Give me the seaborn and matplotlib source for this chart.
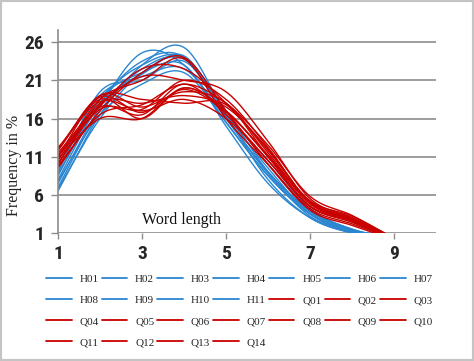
import numpy as np
import pandas as pd
import matplotlib
matplotlib.use("Agg")
import matplotlib.pyplot as plt
from matplotlib.patches import Rectangle
from matplotlib import font_manager
import seaborn as sns

word_length = [1, 2, 3, 4, 5, 6, 7, 8, 9]

H01 = [6.5, 16.5, 23.0, 25.3, 16.5, 8.0, 3.0, 1.0, 0.2]
H02 = [7.5, 17.5, 24.6, 23.0, 15.5, 8.5, 3.5, 1.2, 0.2]
H03 = [8.0, 18.0, 23.5, 24.0, 16.0, 9.0, 3.8, 1.3, 0.3]
H04 = [9.0, 19.5, 21.0, 23.5, 16.5, 9.5, 3.5, 1.0, 0.2]
H05 = [7.0, 17.0, 22.5, 23.8, 17.0, 9.0, 3.2, 1.1, 0.2]
H06 = [8.5, 18.5, 22.0, 23.0, 15.0, 7.5, 3.0, 1.0, 0.2]
H07 = [10.0, 19.0, 21.5, 22.5, 16.0, 9.0, 4.0, 1.5, 0.3]
H08 = [7.8, 16.5, 20.5, 22.0, 15.5, 8.5, 3.5, 1.2, 0.3]
H09 = [9.5, 18.5, 23.0, 24.0, 17.0, 10.0, 4.0, 1.4, 0.3]
H10 = [6.8, 16.0, 22.0, 23.8, 16.5, 10.5, 4.2, 1.5, 0.4]
H11 = [8.8, 17.8, 21.8, 24.2, 16.2, 8.8, 3.6, 1.2, 0.3]

Q01 = [12.0, 18.5, 16.0, 20.0, 17.0, 11.0, 4.5, 2.5, 0.2]
Q02 = [11.0, 19.0, 17.5, 19.5, 18.0, 11.5, 5.0, 2.8, 0.3]
Q03 = [10.0, 18.0, 18.0, 19.0, 17.5, 12.0, 5.0, 3.0, 0.3]
Q04 = [11.5, 17.5, 16.5, 20.5, 16.5, 10.5, 4.5, 2.5, 0.2]
Q05 = [9.5, 17.0, 22.0, 24.0, 17.0, 10.0, 4.0, 2.0, 0.1]
Q06 = [10.5, 18.5, 21.0, 23.8, 16.0, 10.0, 4.2, 2.2, 0.2]
Q07 = [12.0, 19.0, 18.5, 18.0, 17.8, 11.0, 4.5, 2.8, 0.3]
Q08 = [10.8, 16.0, 16.0, 20.0, 17.0, 11.0, 5.2, 3.2, 0.3]
Q09 = [11.2, 17.8, 21.5, 21.0, 19.5, 13.0, 5.5, 3.0, 0.3]
Q10 = [9.8, 16.5, 17.8, 20.5, 18.0, 12.5, 5.8, 3.3, 0.3]
Q11 = [11.8, 18.8, 16.8, 19.8, 16.8, 11.2, 4.8, 2.6, 0.2]
Q12 = [10.2, 17.2, 17.2, 21.0, 18.5, 12.2, 5.0, 2.7, 0.3]
Q13 = [12.2, 18.2, 17.0, 18.5, 16.0, 10.5, 4.5, 2.4, 0.2]
Q14 = [11.0, 17.6, 22.5, 22.5, 18.0, 11.8, 5.2, 2.9, 0.3]

series = {
    "H01": H01, "H02": H02, "H03": H03, "H04": H04, "H05": H05, "H06": H06,
    "H07": H07, "H08": H08, "H09": H09, "H10": H10, "H11": H11,
    "Q01": Q01, "Q02": Q02, "Q03": Q03, "Q04": Q04, "Q05": Q05, "Q06": Q06,
    "Q07": Q07, "Q08": Q08, "Q09": Q09, "Q10": Q10, "Q11": Q11, "Q12": Q12,
    "Q13": Q13, "Q14": Q14,
}

y_ticks = [1, 6, 11, 16, 21, 26]
x_ticks = [1, 3, 5, 7, 9]

BLUE = "#2A86D1"
RED = "#C80000"


def smooth(xs, ys, n=24):
    """Catmull-Rom rendering of the line (Excel 'smoothed line' style)."""
    x = np.asarray(xs, float)
    y = np.asarray(ys, float)
    px = np.concatenate([[2 * x[0] - x[1]], x, [2 * x[-1] - x[-2]]])
    py = np.concatenate([[2 * y[0] - y[1]], y, [2 * y[-1] - y[-2]]])
    ox, oy = [], []
    t = np.linspace(0, 1, n, endpoint=False)
    for i in range(1, len(px) - 2):
        for P, out in ((px, ox), (py, oy)):
            p0, p1, p2, p3 = P[i - 1], P[i], P[i + 1], P[i + 2]
            out.extend(0.5 * (2 * p1 + (-p0 + p2) * t
                              + (2 * p0 - 5 * p1 + 4 * p2 - p3) * t ** 2
                              + (-p0 + 3 * p1 - 3 * p2 + p3) * t ** 3))
    ox.append(x[-1]); oy.append(y[-1])
    return np.array(ox), np.array(oy)


rows = []
for name, vals in series.items():
    sx, sy = smooth(word_length, vals)
    for i, (a, b) in enumerate(zip(sx, sy)):
        rows.append({"series": name, "x": a, "y": b, "order": i})
df = pd.DataFrame(rows)

palette = {k: (BLUE if k.startswith("H") else RED) for k in series}

sns.set_theme(style="white")
plt.rcParams["font.family"] = ["Liberation Serif", "DejaVu Serif"]

fig = plt.figure(figsize=(4.74, 3.61), dpi=100)
ax = fig.add_axes([0.1224, 0.3546, 0.7976, 0.5624])

sns.lineplot(data=df, x="x", y="y", hue="series", units="series",
             estimator=None, sort=False, palette=palette, linewidth=1.0,
             ax=ax, legend=True)

ax.set_xlim(1, 10)
ax.set_ylim(1, 27.6)
ax.set_yticks(y_ticks)
ax.set_xticks(x_ticks)
ax.grid(axis="y", color="#8c8c8c", linewidth=1.2)
ax.grid(axis="x", visible=False)
ax.set_axisbelow(True)
for s in ["top", "right", "bottom"]:
    ax.spines[s].set_visible(False)
ax.spines["left"].set_color("#8c8c8c")
ax.spines["left"].set_linewidth(1.2)

ax.tick_params(axis="y", which="major", direction="out", length=5, width=1.0,
               color="#8c8c8c", left=True, pad=5)
ax.tick_params(axis="x", which="major", direction="out", length=4, width=1.0,
               color="#8c8c8c", bottom=True, pad=5)

names = {f.name for f in font_manager.fontManager.ttflist}
narrow = [n for n in ["Liberation Sans Narrow", "DejaVu Sans Condensed", "Roboto Condensed",
                      "Open Sans Condensed"] if n in names]
fam = narrow + ["DejaVu Sans"]
bold_font = dict(family=fam, weight="bold", size=14, stretch="condensed")
ax.set_yticklabels([str(v) for v in y_ticks], fontdict=bold_font)
ax.set_xticklabels([str(v) for v in x_ticks], fontdict=bold_font)

ax.set_xlabel("")
ax.set_ylabel("Frequency in %", fontsize=11.5, color="#222222")
ax.yaxis.set_label_coords(-0.095, 0.335)
ax.text(3.95, 2.7, "Word length", ha="center", va="center", fontsize=11.5,
        color="#111111")

handles, labels = ax.get_legend_handles_labels()
ax.get_legend().remove()
ncol = 7
order = []
nrows = int(np.ceil(len(labels) / ncol))
for c in range(ncol):
    for r in range(nrows):
        idx = r * ncol + c
        if idx < len(labels):
            order.append(idx)
leg = fig.legend([handles[i] for i in order], [labels[i] for i in order],
                 ncol=ncol, loc="center", bbox_to_anchor=(0.505, 0.139),
                 frameon=False, fontsize=8, handlelength=2.3,
                 handletextpad=0.7, columnspacing=0.28, labelspacing=1.0)
for line in leg.get_lines():
    line.set_linewidth(1.3)

fig.patches.append(Rectangle((0, 0), 1, 1, transform=fig.transFigure,
                             fill=False, edgecolor="#c4c4c4", linewidth=3))

fig.savefig("out.png", dpi=100)
